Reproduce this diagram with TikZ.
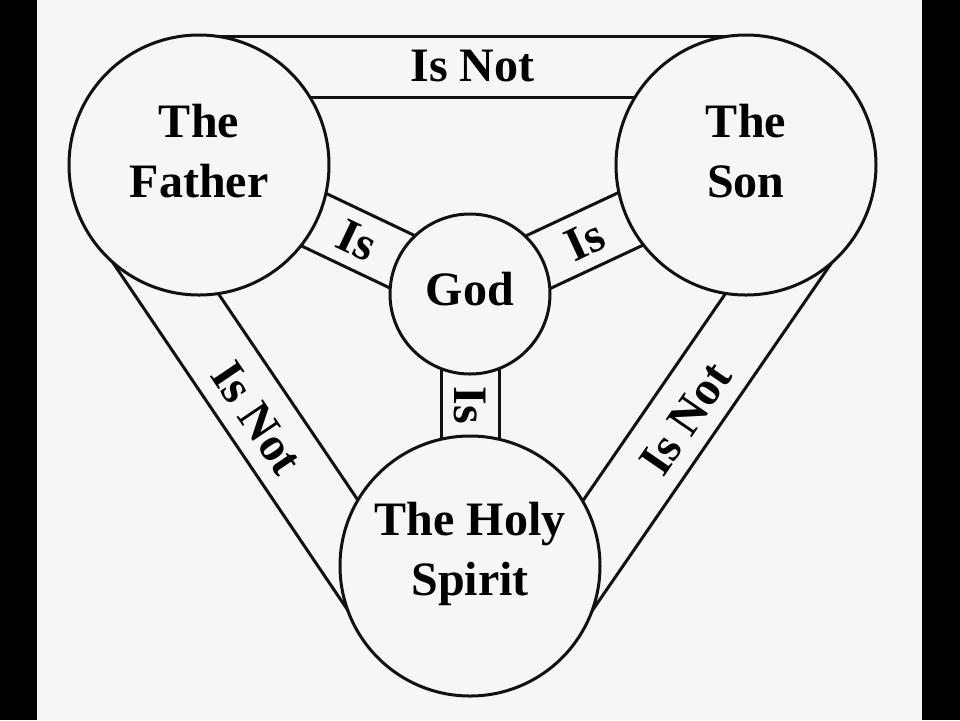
\documentclass[tikz,border=0pt]{standalone}
\usepackage{fontspec}
\setmainfont{Liberation Serif}
\usetikzlibrary{calc}
\definecolor{paper}{HTML}{F6F6F6}
\definecolor{ink}{HTML}{111111}
\tikzset{
  persona/.style={circle, draw=ink, fill=paper, line width=1.5pt, minimum size=130pt,
                  inner sep=0pt, align=center, font=\fontsize{24}{30}\selectfont\bfseries},
  core/.style={persona, minimum size=80pt},
  rim/.style={draw=ink, line width=1.5pt},                 % band edge
  tag/.style={font=\fontsize{24}{30}\selectfont\bfseries, inner sep=0pt},
}
\begin{document}
\begin{tikzpicture}[x=0.5pt, y=-0.5pt]
  \fill[paper] (0,0) rectangle (960,720);
  \fill[black] (0,0) rectangle (37,720);
  \fill[black] (922,0) rectangle (960,720);
  \coordinate (cf) at (199,165);
  \coordinate (cs) at (746,165);
  \coordinate (cg) at (470,294);
  \coordinate (ch) at (470,566);
  % outer bands
  \foreach \a/\b/\o/\i in {cf/cs/64.5pt/34pt, cs/ch/63pt/28pt, ch/cf/63pt/28pt} {
    \draw[rim] ($(\a)!\o!90:(\b)$) -- ($(\b)!\o!-90:(\a)$);
    \draw[rim] ($(\a)!\i!90:(\b)$) -- ($(\b)!\i!-90:(\a)$);
  }
  % inner bands
  \foreach \b in {cf,cs,ch} {
    \draw[rim] ($(cg)!14.5pt!90:(\b)$) -- ($(\b)!14.5pt!-90:(cg)$);
    \draw[rim] ($(cg)!14.5pt!-90:(\b)$) -- ($(\b)!14.5pt!90:(cg)$);
  }
  \node[persona, text depth=14pt] (father) at (cf) {The\\Father};
  \node[persona, text depth=14pt] (son) at (cs) {The\\Son};
  \node[persona, text depth=17.5pt] (spirit) at (ch) {The Holy\\Spirit};
  \node[core, text depth=5pt] (god) at (cg) {God};
  \path ($(cf)!49.5pt!90:(cs)$) -- ($(cs)!49.5pt!-90:(cf)$)
    node[tag, midway, sloped] (nottop) {Is Not};
  \path ($(cs)!47pt!90:(ch)$) -- ($(ch)!47pt!-90:(cs)$)
    node[tag, midway, sloped] (notright) {Is Not};
  \path ($(ch)!47pt!90:(cf)$) -- ($(cf)!47pt!-90:(ch)$)
    node[tag, midway, sloped] (notleft) {Is Not};
  \path (god) -- (father) node[tag, midway, sloped] (isleft) {Is};
  \path (god) -- (son) node[tag, midway, sloped] (isright) {Is};
  \path (god) -- (spirit) node[tag, midway, rotate=-90] (isdown) {Is};
\end{tikzpicture}
\end{document}
